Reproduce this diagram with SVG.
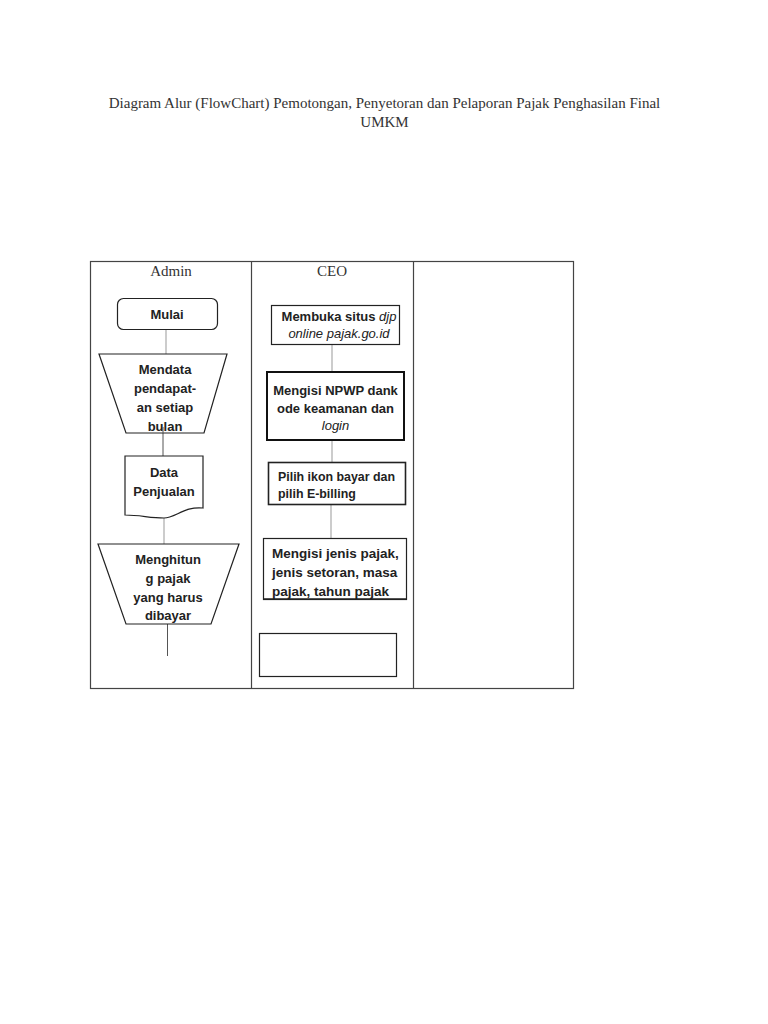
<svg xmlns="http://www.w3.org/2000/svg" width="768" height="1024" viewBox="0 0 768 1024">
<style>
.title{font-family:"Liberation Sans",Arial,sans-serif;font-family:"Liberation Serif",serif;font-size:15px;fill:#333}
.lane{font-family:"Liberation Serif",serif;font-size:15px;fill:#333}
.t{font-family:"Liberation Sans",Arial,sans-serif;font-size:13px;font-weight:bold;fill:#222}
.t12{font-size:12.4px}
.t135{font-size:13.5px}
.it{font-style:italic;font-weight:normal}
.frame{fill:none;stroke:#444;stroke-width:1.2}
.shape{fill:#fff;stroke:#222;stroke-width:1.2}
.thick{fill:#fff;stroke:#111;stroke-width:2}
.conn{fill:none;stroke:#999;stroke-width:1}
.conn2{fill:none;stroke:#555;stroke-width:1}
</style>
<defs>
<clipPath id="clip4"><rect x="263" y="538" width="143" height="61"/></clipPath>
</defs>
<rect width="768" height="1024" fill="#fff"/>
<g id="title">
<text class="title" x="384.5" y="108" text-anchor="middle">Diagram Alur (FlowChart) Pemotongan, Penyetoran dan Pelaporan Pajak Penghasilan Final</text>
<text class="title" x="384.5" y="127" text-anchor="middle">UMKM</text>
</g>
<g id="table">
<rect class="frame" x="90.5" y="261.5" width="483" height="427"/>
<line class="frame" x1="251.5" y1="261.5" x2="251.5" y2="688.5"/>
<line class="frame" x1="413.5" y1="261.5" x2="413.5" y2="688.5"/>
<text class="lane" x="171" y="276" text-anchor="middle">Admin</text>
<text class="lane" x="332" y="276" text-anchor="middle">CEO</text>
</g>
<g id="connectors">
<line class="conn" x1="166" y1="330" x2="166" y2="354"/>
<line class="conn2" x1="163" y1="433" x2="163" y2="456"/>
<line class="conn" x1="164" y1="517" x2="164" y2="544"/>
<line class="conn2" x1="167.5" y1="617" x2="167.5" y2="656"/>
<line class="conn" x1="332" y1="344" x2="332" y2="372"/>
<line class="conn" x1="332" y1="440" x2="332" y2="462"/>
<line class="conn" x1="331" y1="504" x2="331" y2="538"/>
</g>
<g id="mulai">
<rect class="shape" x="117.5" y="298.5" width="100" height="31" rx="6"/>
<text class="t" x="167" y="319" text-anchor="middle">Mulai</text>
</g>
<g id="mendata">
<polygon class="shape" points="99,354 227,354 204,433 126,433"/>
<text class="t" text-anchor="middle"><tspan x="165" y="374">Mendata</tspan><tspan x="165" y="393">pendapat-</tspan><tspan x="165" y="412">an setiap</tspan><tspan x="165" y="431">bulan</tspan></text>
<line class="conn2" x1="163" y1="427" x2="163" y2="433"/>
</g>
<g id="data-penjualan">
<path class="shape" d="M125,456 H203 V508 C185,506 175,518 164,518 C150,518 140,515 125,515 Z"/>
<text class="t" text-anchor="middle"><tspan x="164" y="477">Data</tspan><tspan x="164" y="496">Penjualan</tspan></text>
</g>
<g id="menghitung">
<polygon class="shape" points="98,544 239,544 211,624 126,624"/>
<text class="t" text-anchor="middle"><tspan x="168" y="564">Menghitun</tspan><tspan x="168" y="583">g pajak</tspan><tspan x="168" y="602">yang harus</tspan><tspan x="168" y="620">dibayar</tspan></text>
</g>
<g id="membuka">
<rect class="shape" x="271.5" y="305.5" width="128" height="39"/>
<text class="t" x="339" y="321" text-anchor="middle">Membuka situs <tspan class="it">djp</tspan></text>
<text class="t it" x="339" y="338" text-anchor="middle">online pajak.go.id</text>
</g>
<g id="npwp">
<rect class="thick" x="267" y="372" width="137" height="68"/>
<text class="t" text-anchor="middle"><tspan x="335.5" y="395">Mengisi NPWP dank</tspan><tspan x="335.5" y="413">ode keamanan dan</tspan><tspan class="it" x="335.5" y="430">login</tspan></text>
</g>
<g id="pilih">
<rect class="shape" x="268.5" y="462.5" width="137" height="42" style="stroke-width:1.6"/>
<text class="t t12"><tspan x="278" y="481">Pilih ikon bayar dan</tspan><tspan x="278" y="498">pilih E-billing</tspan></text>
</g>
<g id="jenis">
<rect class="shape" x="263.5" y="538.5" width="143" height="61"/>
<g clip-path="url(#clip4)">
<text class="t t135"><tspan x="272" y="558">Mengisi jenis pajak,</tspan><tspan x="272" y="577">jenis setoran, masa</tspan><tspan x="272" y="596">pajak, tahun pajak</tspan></text>
</g>
<line x1="263" y1="599" x2="407" y2="599" stroke="#222" stroke-width="1.5"/>
</g>
<g id="empty-box">
<rect class="shape" x="259.5" y="633.5" width="137" height="43"/>
</g>
</svg>
